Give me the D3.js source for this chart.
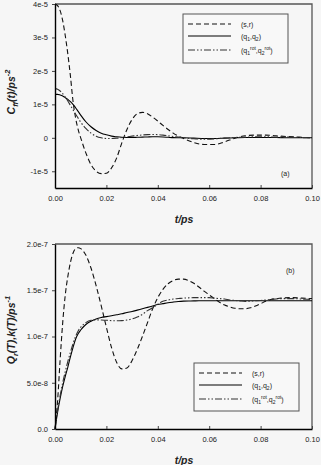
<!DOCTYPE html>
<html>
<head>
<meta charset="utf-8">
<script src="https://cdn.jsdelivr.net/npm/d3@7"></script>
<style>
  body { margin: 0; background: #f6f6f6; }
  svg { display: block; font-family: "Liberation Sans", Arial, sans-serif; }
</style>
</head>
<body>
<div id="chart"></div>
<script>
// ---- data ----
// panel (a): time in ps, correlation in units of 1e-5 ps^-2
const tA = [0, 0.001, 0.002, 0.003, 0.004, 0.005, 0.006, 0.007, 0.008, 0.009, 0.010, 0.012, 0.014, 0.016, 0.018, 0.020,
  0.022, 0.024, 0.026, 0.028, 0.030, 0.032, 0.034, 0.036, 0.038, 0.040, 0.042, 0.044, 0.046, 0.048, 0.050,
  0.054, 0.058, 0.062, 0.066, 0.070, 0.074, 0.078, 0.082, 0.086, 0.090, 0.095, 0.100];
const srA = [4.0, 3.95, 3.8, 3.5, 3.05, 2.5, 1.85, 1.1, 0.6, 0.25, 0.0, -0.45, -0.8, -1.0, -1.07, -1.06,
  -0.9, -0.6, -0.15, 0.25, 0.55, 0.72, 0.76, 0.72, 0.62, 0.5, 0.37, 0.25, 0.14, 0.05, -0.02,
  -0.14, -0.2, -0.2, -0.12, -0.01, 0.06, 0.08, 0.08, 0.06, 0.04, 0.02, 0.0];
const qqA = [1.3, 1.3, 1.28, 1.25, 1.2, 1.15, 1.08, 1.0, 0.9, 0.79, 0.68, 0.48, 0.33, 0.22, 0.14, 0.09,
  0.05, 0.03, 0.015, 0.01, 0.01, 0.015, 0.02, 0.025, 0.03, 0.03, 0.025, 0.015, 0.005, 0.0, 0.0,
  -0.01, -0.02, -0.02, -0.01, 0.0, 0.01, 0.01, 0.01, 0.01, 0.0, 0.0, 0.0];
const rotA = [1.47, 1.45, 1.4, 1.32, 1.22, 1.1, 0.97, 0.84, 0.71, 0.59, 0.47, 0.28, 0.14, 0.05, 0.0, -0.02,
  -0.02, -0.01, 0.01, 0.03, 0.05, 0.07, 0.085, 0.095, 0.1, 0.095, 0.08, 0.06, 0.04, 0.02, 0.0,
  -0.03, -0.04, -0.03, -0.01, 0.01, 0.02, 0.03, 0.03, 0.02, 0.02, 0.01, 0.0];

// panel (b): time in ps, rate in units of 1e-7 ps^-1
const tB = [0, 0.001, 0.002, 0.003, 0.004, 0.005, 0.006, 0.007, 0.008, 0.009, 0.010, 0.012, 0.014, 0.016, 0.018, 0.020,
  0.022, 0.024, 0.026, 0.028, 0.030, 0.032, 0.034, 0.036, 0.038, 0.040, 0.042, 0.044, 0.046, 0.048, 0.050,
  0.052, 0.054, 0.056, 0.058, 0.060, 0.062, 0.064, 0.066, 0.068, 0.070, 0.072, 0.074, 0.076, 0.078, 0.080,
  0.082, 0.084, 0.088, 0.092, 0.096, 0.100];
const srB = [0, 0.3, 0.75, 1.15, 1.45, 1.65, 1.8, 1.9, 1.95, 1.96, 1.95, 1.88, 1.74, 1.55, 1.33, 1.1,
  0.88, 0.72, 0.65, 0.66, 0.74, 0.86, 1.0, 1.15, 1.3, 1.42, 1.51, 1.57, 1.605, 1.62, 1.62,
  1.605, 1.575, 1.535, 1.49, 1.45, 1.41, 1.37, 1.34, 1.32, 1.305, 1.3, 1.3, 1.31, 1.33, 1.355,
  1.38, 1.4, 1.415, 1.42, 1.415, 1.41];
const qqB = [0, 0.18, 0.33, 0.46, 0.57, 0.67, 0.78, 0.88, 0.97, 1.03, 1.07, 1.13, 1.165, 1.19, 1.205, 1.215,
  1.225, 1.235, 1.245, 1.26, 1.27, 1.285, 1.3, 1.315, 1.33, 1.345, 1.355, 1.365, 1.372, 1.378, 1.382,
  1.384, 1.385, 1.386, 1.386, 1.386, 1.386, 1.386, 1.386, 1.386, 1.386, 1.386, 1.386, 1.386, 1.386, 1.386,
  1.386, 1.386, 1.386, 1.386, 1.386, 1.386];
const rotB = [0, 0.2, 0.36, 0.5, 0.62, 0.73, 0.83, 0.92, 1.0, 1.06, 1.1, 1.15, 1.175, 1.18, 1.178, 1.175,
  1.172, 1.17, 1.172, 1.178, 1.19, 1.21, 1.24, 1.28, 1.31, 1.35, 1.38, 1.395, 1.405, 1.41, 1.415,
  1.418, 1.42, 1.42, 1.42, 1.42, 1.415, 1.41, 1.405, 1.395, 1.39, 1.385, 1.38, 1.382, 1.386, 1.39,
  1.395, 1.4, 1.41, 1.41, 1.405, 1.4];

const xTicks = [0, 0.02, 0.04, 0.06, 0.08, 0.10];
const yTicksA = [-1, 0, 1, 2, 3, 4];
const yLabelsA = ["-1e-5", "0", "1e-5", "2e-5", "3e-5", "4e-5"];
const yTicksB = [0, 0.5, 1.0, 1.5, 2.0];
const yLabelsB = ["0.0", "5.0e-8", "1.0e-7", "1.5e-7", "2.0e-7"];

const styles = [
  {key: "sr", dash: "5,3", color: "#111"},
  {key: "qq", dash: null, color: "#000"},
  {key: "rot", dash: "7,2,1.5,2,1.5,2", color: "#333"}
];

// ---- drawing ----
const width = 321, height = 465;
const svg = d3.select("#chart").append("svg")
  .attr("width", width)
  .attr("height", height);

const x = d3.scaleLinear().domain([0, 0.1]).range([55, 312]);

function legendLabel(txt, k) {
  // k: 0 -> (s,r), 1 -> (q1,q2), 2 -> (q1^rot,q2^rot)
  if (k === 0) { txt.append("tspan").text("(s,r)"); return; }
  txt.append("tspan").text("(q");
  txt.append("tspan").attr("font-size", 5).attr("dy", 2).text("1");
  if (k === 2) txt.append("tspan").attr("font-size", 5).attr("dy", -5).text("rot");
  txt.append("tspan").attr("dy", k === 2 ? 3 : -2).text(",q");
  txt.append("tspan").attr("font-size", 5).attr("dy", 2).text("2");
  if (k === 2) txt.append("tspan").attr("font-size", 5).attr("dy", -5).text("rot");
  txt.append("tspan").attr("dy", k === 2 ? 3 : -2).text(")");
}

function panel(cfg) {
  const y = d3.scaleLinear().domain(cfg.yDomain).range(cfg.yRange);
  const g = svg.append("g");
  const top = cfg.yRange[1], bottom = cfg.yRange[0];

  // frame (top and right)
  g.append("path")
    .attr("d", `M${x.range()[0]},${top}H${x.range()[1]}V${bottom}`)
    .attr("fill", "none").attr("stroke", "#555").attr("stroke-width", 1.3);

  // curves
  const line = d3.line()
    .x((d, i) => x(cfg.t[i]))
    .y(d => y(d))
    .curve(d3.curveMonotoneX);
  cfg.series.forEach((s, i) => {
    g.append("path")
      .datum(s)
      .attr("d", line)
      .attr("fill", "none")
      .attr("stroke", styles[i].color)
      .attr("stroke-width", 1.1)
      .attr("stroke-dasharray", styles[i].dash);
  });

  // axes
  const xAxis = g.append("g")
    .attr("transform", `translate(0,${bottom})`)
    .call(d3.axisBottom(x).tickValues(xTicks).tickSizeInner(-3).tickSizeOuter(0)
      .tickFormat(d3.format(".2f")).tickPadding(8));
  const yAxis = g.append("g")
    .attr("transform", `translate(${x.range()[0]},0)`)
    .call(d3.axisLeft(y).tickValues(cfg.yTicks).tickSizeInner(3).tickSizeOuter(0)
      .tickFormat((d, i) => cfg.yLabels[i]).tickPadding(4));
  [xAxis, yAxis].forEach(a => {
    a.select(".domain").attr("stroke", "#000").attr("stroke-width", 1.4);
    a.selectAll(".tick line").attr("stroke", "#444");
    a.selectAll(".tick text").attr("font-size", 7.5).attr("fill", "#222");
  });

  // x label
  g.append("text")
    .attr("x", 184).attr("y", bottom + 35)
    .attr("text-anchor", "middle")
    .attr("font-size", 10.5).attr("font-style", "italic").attr("font-weight", "bold")
    .attr("fill", "#222")
    .text("t/ps");

  // y label
  const yl = g.append("text")
    .attr("transform", `translate(15,${cfg.yLabelY}) rotate(-90)`)
    .attr("text-anchor", "middle")
    .attr("font-size", 10.5).attr("font-style", "italic").attr("font-weight", "bold")
    .attr("fill", "#222");
  cfg.yLabel(yl);

  // panel tag
  g.append("text")
    .attr("x", cfg.tag[0]).attr("y", cfg.tag[1])
    .attr("font-size", 7).attr("fill", "#222")
    .text(cfg.tag[2]);

  // legend
  const [lx, ly, lw, lh] = cfg.legend;
  const lg = g.append("g").attr("transform", `translate(${lx},${ly})`);
  lg.append("rect")
    .attr("width", lw).attr("height", lh)
    .attr("fill", "#f8f8f8").attr("stroke", "#555").attr("stroke-width", 1);
  [10, 22, 36].forEach((yy, k) => {
    lg.append("line")
      .attr("x1", 5).attr("x2", 48).attr("y1", yy).attr("y2", yy)
      .attr("stroke", styles[k].color).attr("stroke-width", 1.1)
      .attr("stroke-dasharray", styles[k].dash);
    const t = lg.append("text")
      .attr("x", 58).attr("y", yy + 2.5)
      .attr("font-size", 7).attr("fill", "#222");
    legendLabel(t, k);
  });
}

panel({
  t: tA, series: [srA, qqA, rotA],
  yDomain: [-1.5, 4], yRange: [188, 4],
  yTicks: yTicksA, yLabels: yLabelsA,
  yLabelY: 92,
  yLabel: t => {
    t.append("tspan").text("C");
    t.append("tspan").attr("font-size", 7.5).attr("dy", 3).text("ff");
    t.append("tspan").attr("dy", -3).text("(t)/ps");
    t.append("tspan").attr("font-size", 7.5).attr("dy", -5).text("-2");
  },
  tag: [281, 176, "(a)"],
  legend: [183, 14, 105, 49]
});

panel({
  t: tB, series: [srB, qqB, rotB],
  yDomain: [0, 2], yRange: [429, 244],
  yTicks: yTicksB, yLabels: yLabelsB,
  yLabelY: 330,
  yLabel: t => {
    t.append("tspan").text("Q");
    t.append("tspan").attr("font-size", 7.5).attr("dy", 3).text("r");
    t.append("tspan").attr("dy", -3).text("(T),k(T)/ps");
    t.append("tspan").attr("font-size", 7.5).attr("dy", -5).text("-1");
  },
  tag: [286, 273, "(b)"],
  legend: [194, 363, 105, 48]
});
</script>
</body>
</html>
